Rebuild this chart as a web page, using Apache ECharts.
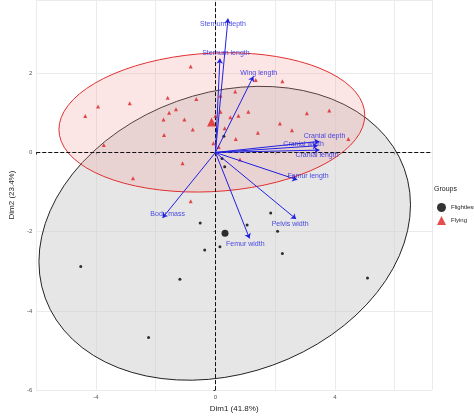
<!DOCTYPE html>
<html><head><meta charset="utf-8">
<script src="https://cdn.jsdelivr.net/npm/echarts@6/dist/echarts.min.js"></script>
<style>html,body{margin:0;padding:0;background:#fff}#c{width:474px;height:418px}</style>
</head><body><div id="c"></div>
<script>
var flying = [[-0.83,2.17],[1.35,1.83],[2.24,1.80],[0.66,1.54],[0.17,1.43],[-1.60,1.38],[-0.64,1.35],
  [-2.87,1.24],[-3.93,1.16],[-1.32,1.09],[-1.55,1.0],[-4.36,0.92],[0.17,1.03],[1.10,1.03],[0.77,0.93],
  [0.50,0.89],[0,0.92],[3.06,0.99],[3.81,1.06],[-1.74,0.83],[-1.04,0.83],[2.16,0.73],[0.31,0.61],
  [-0.76,0.58],[2.56,0.56],[1.42,0.50],[-1.72,0.44],[0.68,0.34],[4.45,0.34],[-0.07,0.23],[-3.74,0.19],
  [0.11,0.14],[0.82,-0.18],[-1.10,-0.27],[-2.76,-0.65],[-0.83,-1.23]];
var flightless = [[0.28,0.41],[0.22,-0.15],[0.31,-0.36],[1.85,-1.53],[-0.51,-1.78],[1.06,-1.83],
  [2.08,-1.99],[0.15,-2.38],[-0.36,-2.46],[2.24,-2.55],[-4.51,-2.88],[-1.19,-3.2],[5.09,-3.17],[-2.24,-4.67]];
var flyingMean = [-0.13,0.77];
var flightlessMean = [0.32,-2.04];
// ellipse: center, conjugate axis vectors
var flyingEllipse = [[-0.12,0.76],[5.12,0.18],[0,1.75]];
var flightlessEllipse = [[0.31,-2.04],[6.22,0.72],[0,3.64]];
var varNames = ['Sternum depth','Sternum length','Wing length','Cranial depth','Cranial width','Cranial length',
  'Femur length','Pelvis width','Femur width','Body mass'];
var varEnds = [[0.42,3.38],[0.15,2.37],[1.27,1.92],[3.48,0.28],[3.42,0.17],[3.48,0.06],
  [2.74,-0.69],[2.70,-1.68],[1.14,-2.17],[-1.77,-1.65]];
var labelPos = [[0.25,3.25],[0.35,2.5],[1.45,2.0],[3.65,0.42],[2.95,0.2],[3.4,-0.07],
  [3.1,-0.6],[2.5,-1.82],[1.0,-2.3],[-1.6,-1.55]];
var zeroLines = [[[0,-6],[0,3.85]],[[-6,0],[7.25,0]]];

function ellipsePts(e){
  var pts=[];
  for(var i=0;i<=72;i++){var t=i/72*2*Math.PI;
    pts.push([e[0][0]+e[1][0]*Math.cos(t)+e[2][0]*Math.sin(t), e[0][1]+e[1][1]*Math.cos(t)+e[2][1]*Math.sin(t)]);}
  return pts;
}
function ellipseSeries(e, fill, stroke){
  var pts = ellipsePts(e);
  return {type:'custom', silent:true, data:[0], z:1,
    renderItem:function(p,api){
      return {type:'polygon', shape:{points:pts.map(function(q){return api.coord(q);})},
        style:{fill:fill, stroke:stroke, lineWidth:1}};
    }};
}
var chart = echarts.init(document.getElementById('c'));
var axisCommon = {type:'value', interval:2, axisLine:{show:false}, axisTick:{show:true,length:2,lineStyle:{color:'#333'}},
  splitLine:{lineStyle:{color:'#ebebeb'}}, nameTextStyle:{fontSize:8,color:'#222'}};
chart.setOption({
  animation:false,
  grid:{left:32,right:42,top:0,bottom:24},
  xAxis:Object.assign({}, axisCommon, {min:-6,max:7.25,name:'Dim1 (41.8%)',nameLocation:'middle',nameGap:12,
    axisLabel:{fontSize:6,color:'#555',margin:4,formatter:function(v){return v%4===0?v:'';},showMaxLabel:false}}),
  yAxis:Object.assign({}, axisCommon, {min:-6,max:3.85,name:'Dim2 (23.4%)',nameLocation:'middle',nameGap:20,
    axisLabel:{fontSize:6,color:'#555',margin:4,showMaxLabel:false}}),
  legend:{orient:'vertical',left:432,top:198,itemWidth:9,itemHeight:9,itemGap:4,
    textStyle:{fontSize:6,color:'#222'},data:['Flightless','Flying']},
  graphic:[{type:'text',left:434,top:186,style:{text:'Groups',fontSize:7,fill:'#222'}}],
  series:[
    ellipseSeries(flightlessEllipse,'rgba(205,205,205,0.5)','#222'),
    ellipseSeries(flyingEllipse,'rgba(240,150,150,0.25)','#e03030'),
    {type:'lines',coordinateSystem:'cartesian2d',z:2,silent:true,
      lineStyle:{color:'#111',type:'dashed',width:1,opacity:1},
      data:zeroLines.map(function(c){return {coords:c};})},
    {type:'scatter',name:'Flightless',data:flightless,symbol:'circle',symbolSize:3,itemStyle:{color:'#000'},z:3},
    {type:'scatter',name:'Flying',data:flying,symbol:'triangle',symbolSize:4,itemStyle:{color:'#e02020'},z:3},
    {type:'scatter',data:[flightlessMean],symbol:'circle',symbolSize:7,itemStyle:{color:'#000'},z:3},
    {type:'scatter',data:[flyingMean],symbol:'triangle',symbolSize:9,itemStyle:{color:'#e02020'},z:3},
    {type:'lines',coordinateSystem:'cartesian2d',z:4,symbol:['none','arrow'],symbolSize:5,
      lineStyle:{color:'#2020e0',width:1,opacity:1},
      data:varEnds.map(function(e){return {coords:[[0,0],e]};})},
    {type:'scatter',z:5,symbolSize:0,data:labelPos.map(function(p,i){return {value:p,name:varNames[i]};}),
      label:{show:true,position:'inside',formatter:'{b}',fontSize:7,color:'#2020e0'}}
  ]
});
</script></body></html>
